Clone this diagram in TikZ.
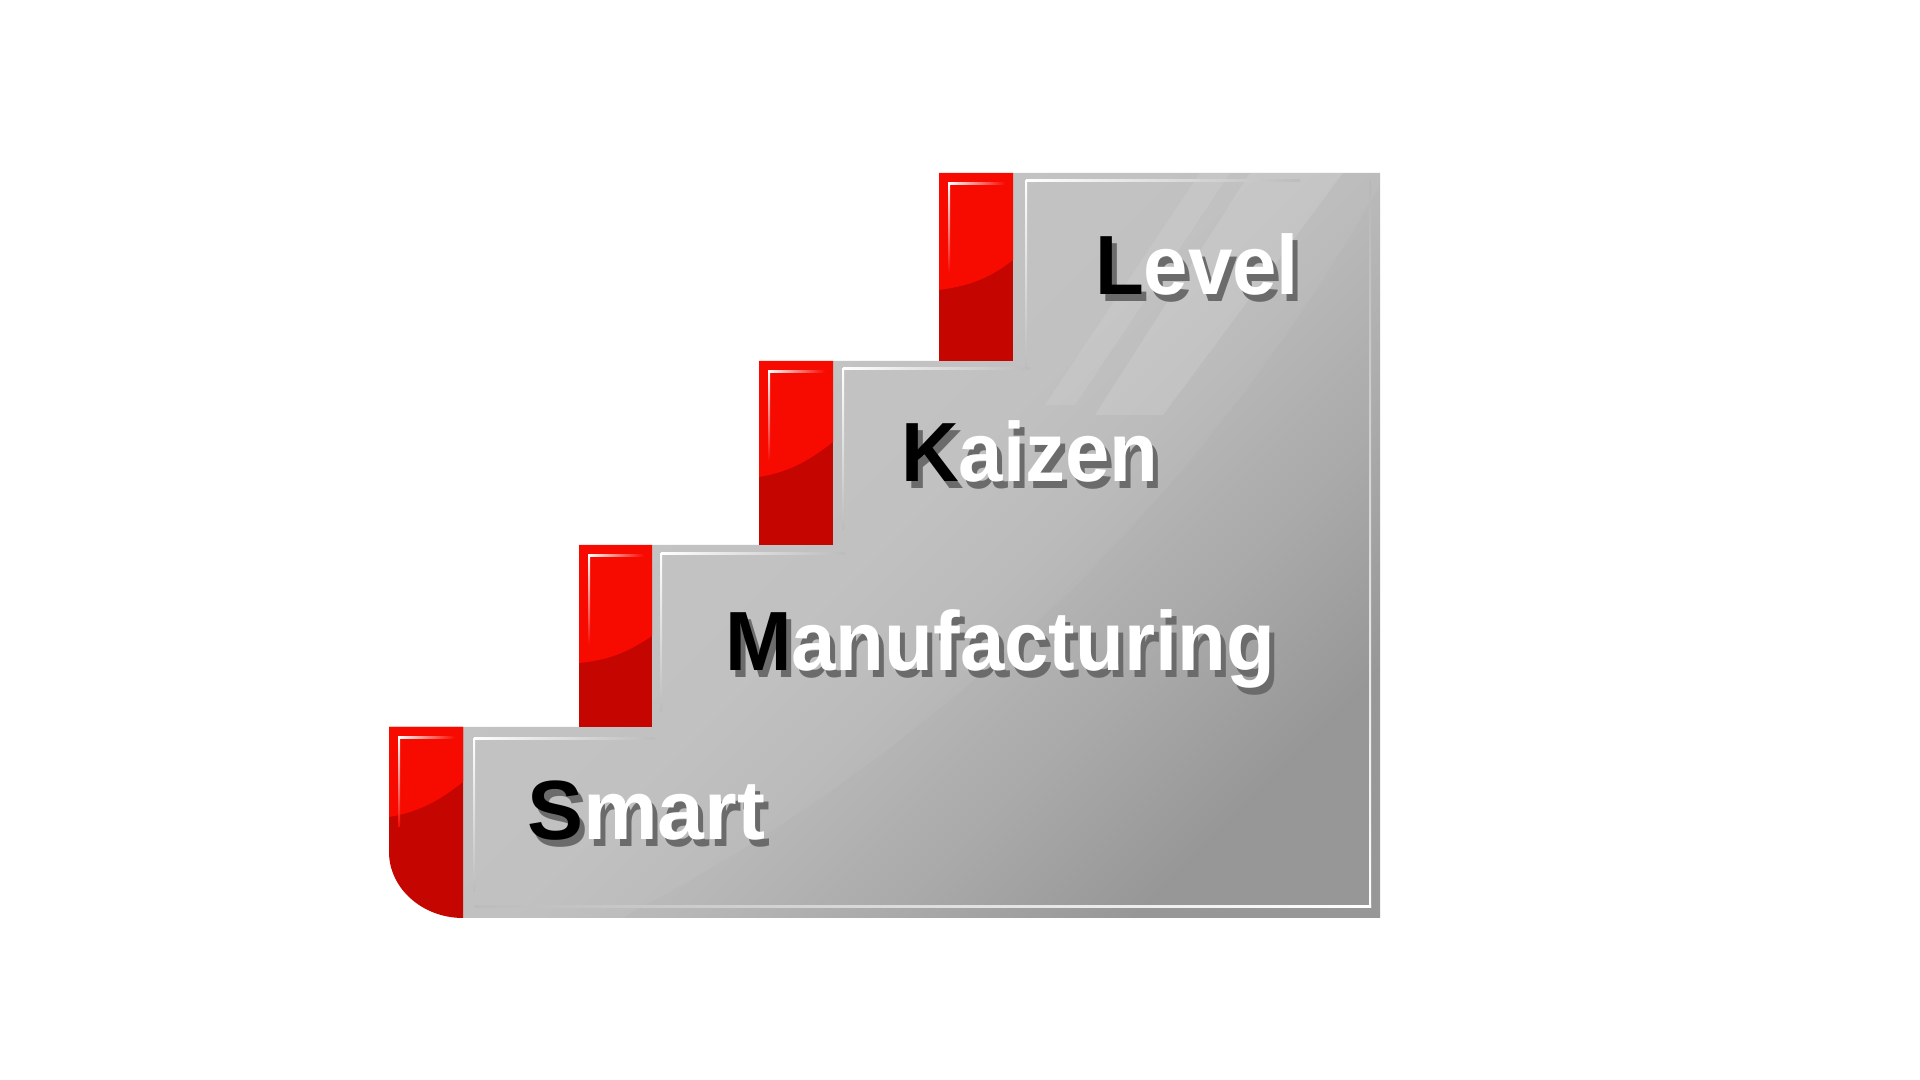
\documentclass[tikz,border=0pt]{standalone}
\usepackage{fontspec}
\setmainfont{Liberation Sans}
\definecolor{redlight}{HTML}{F70A00}
\definecolor{reddark}{HTML}{C40500}
\definecolor{greyA}{HTML}{C2C2C2}
\definecolor{greyE}{HTML}{BEBEBE}
\definecolor{greyD}{HTML}{B8B8B8}
\definecolor{greyF}{HTML}{A9A9A9}
\definecolor{greyC}{HTML}{979797}
\definecolor{bgg}{HTML}{BCBCBC}
\definecolor{shadowgrey}{HTML}{6B6B6B}
\pgfdeclareverticalshading{stairshade}{100bp}{color(0bp)=(greyC); color(25bp)=(greyC); color(35bp)=(greyF); color(45bp)=(greyD); color(52bp)=(greyE); color(75bp)=(greyA); color(100bp)=(greyA)}
\begin{document}
\begin{tikzpicture}[x=0.01cm, y=-0.01cm,
  txt/.style={anchor=base west, inner sep=0pt, outer sep=0pt,
    font=\fontsize{23.9}{28}\selectfont\bfseries, text=white},
  txtshadow/.style={txt, text=shadowgrey},
  hlh/.style={left color=white, middle color=white!60!#1, right color=#1},
  hlv/.style={top color=white, middle color=white!60!#1, bottom color=#1},
  gloss/.style={fill=white}]
\useasboundingbox (0,0) rectangle (1920,1080);
\fill[white] (0,0) rectangle (1920,1080);

% grey staircase
\def\stairpath{(463,918) -- (1380,918) -- (1380,173) -- (1013,173) -- (1013,361) -- (833,361) -- (833,545) -- (652,545) -- (652,727) -- (463,727) -- cycle}
\shade[shading=stairshade, shading angle=45] \stairpath;

% glass gloss
\begin{scope}
  \clip \stairpath;
  \fill[gloss, opacity=0.05] (-221,-713) circle (1835);
  \fill[gloss, opacity=0.09] (1200,173) -- (1230,173) -- (1075,405) -- (1045,405) -- cycle;
  \fill[gloss, opacity=0.11] (1250,173) -- (1343,173) -- (1163,415) -- (1095,415) -- cycle;
\end{scope}

% inner white frame lines
\shade[hlh=bgg] (474,738) rectangle (655,740);
\shade[hlv=bgg] (473,739) rectangle (475,892);
\shade[hlh=bgg] (661,553) rectangle (845,555);
\shade[hlv=bgg] (660,554) rectangle (662,712);
\shade[hlh=bgg] (843,368) rectangle (1030,370);
\shade[hlv=bgg] (842,369) rectangle (844,530);
\shade[hlh=bgg] (1026,180) rectangle (1300,182);
\shade[hlv=bgg] (1025,181) rectangle (1027,368);
\shade[top color=greyD, middle color=white!70!greyD, bottom color=white] (1369,181) rectangle (1371,908);
\shade[left color=bgg, middle color=white!70!bgg, right color=white] (474,906) rectangle (1371,908);

% red blocks
% step 1 (rounded corner)
\fill[reddark] (389,727) -- (463,727) -- (463,918) .. controls (422,918) and (389,888) .. (389,852) -- cycle;
\fill[redlight] (389,727) -- (463,727) -- (463,782) .. controls (440,800) and (420,812) .. (389,817) -- cycle;
% step 2
\fill[reddark] (579,545) rectangle (652,727);
\fill[redlight] (579,545) -- (652,545) -- (652,636) .. controls (628,652) and (610,660) .. (579,663) -- cycle;
% step 3
\fill[reddark] (759,361) rectangle (833,545);
\fill[redlight] (759,361) -- (833,361) -- (833,442) .. controls (810,460) and (790,472) .. (759,477) -- cycle;
% step 4
\fill[reddark] (939,173) rectangle (1013,361);
\fill[redlight] (939,173) -- (1013,173) -- (1013,260) .. controls (990,278) and (970,286) .. (939,290) -- cycle;

% red highlights
\foreach \L/\R/\T in {389/463/727, 579/652/545, 759/833/361, 939/1013/173}{
  \shade[hlh=redlight] (\L+10,\T+10) rectangle (\R-8,\T+12);
  \shade[hlv=redlight] (\L+9,\T+10) rectangle (\L+11,\T+100);
}

% texts
\node[txtshadow] (smartsh) at (532,847) {Smart};
\node[txt] (smart) at (527,840) {\textcolor{black}{S}mart};
\node[txtshadow] (manush) at (730,678) {\scalebox{0.95}[1]{Manufacturing}};
\node[txt] (manu) at (725,671) {\scalebox{0.95}[1]{\textcolor{black}{M}anufacturing}};
\node[txtshadow] (kaizensh) at (906,489) {\scalebox{0.95}[1]{Kaizen}};
\node[txt] (kaizen) at (901,482) {\scalebox{0.95}[1]{\textcolor{black}{K}aizen}};
\node[txtshadow] (levelsh) at (1100,302) {\scalebox{0.95}[1]{Level}};
\node[txt] (level) at (1095,295) {\scalebox{0.95}[1]{\textcolor{black}{L}evel}};
\end{tikzpicture}
\end{document}
